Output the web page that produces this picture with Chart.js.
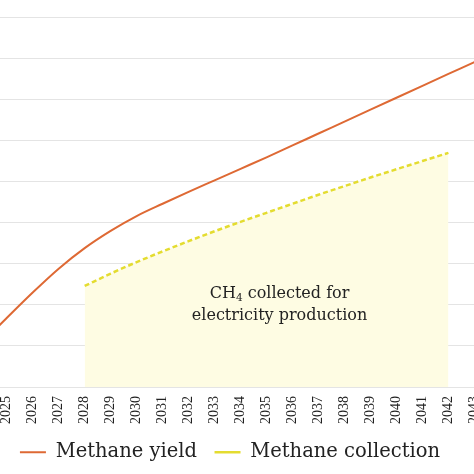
<!DOCTYPE html>
<html>
<head>
<meta charset="utf-8">
<script src="https://cdn.jsdelivr.net/npm/chart.js@4"></script>
<style>
    html, body { margin: 0; padding: 0; background: #fff; overflow: hidden; }
    #wrap { position: absolute; left: -30px; top: 0; width: 520px; height: 474px; }
</style>
</head>
<body>
<div id="wrap"><canvas id="methaneChart"></canvas></div>
<script>
// Years shown on the x axis (2024 sits just off the left edge)
const years = [2024, 2025, 2026, 2027, 2028, 2029, 2030, 2031, 2032, 2033,
    2034, 2035, 2036, 2037, 2038, 2039, 2040, 2041, 2042, 2043];
const yieldValues = [10.5, 16.8, 23.0, 28.8, 33.8, 38.0, 41.6, 44.6, 47.5, 50.3,
    53.1, 55.9, 58.8, 61.7, 64.6, 67.5, 70.4, 73.3, 76.2, 79.1];

const collectionYears = [2028, 2029, 2030, 2031, 2032, 2033, 2034, 2035,
    2036, 2037, 2038, 2039, 2040, 2041, 2042];
const collectionValues = [24.6, 27.6, 30.4, 33.0, 35.5, 37.9, 40.2, 42.4,
    44.6, 46.8, 48.9, 51.0, 53.0, 55.0, 57.0];

const seriesNames = ['Methane yield', 'Methane collection'];
const noteLines = ['collected for', 'electricity production'];

const toPoints = (xs, ys) => xs.map((x, i) => ({ x: x, y: ys[i] }));

// Text inside the shaded area
const notePlugin = {
    id: 'note',
    afterDatasetsDraw: function (chart) {
        const ctx = chart.ctx;
        const cx = chart.scales.x.getPixelForValue(2035.5);
        const y1 = chart.scales.y.getPixelForValue(21.7);
        const y2 = chart.scales.y.getPixelForValue(16.3);
        const big = '16px "DejaVu Serif"';
        const small = '10.5px "DejaVu Serif"';
        ctx.save();
        ctx.fillStyle = '#222';
        ctx.textBaseline = 'alphabetic';

        ctx.font = big;
        const wCH = ctx.measureText('CH').width;
        const wRest = ctx.measureText(' ' + noteLines[0]).width;
        ctx.font = small;
        const wSub = ctx.measureText('4').width;
        const x = cx - (wCH + wSub + wRest) / 2;
        ctx.textAlign = 'left';
        ctx.font = big;
        ctx.fillText('CH', x, y1);
        ctx.font = small;
        ctx.fillText('4', x + wCH, y1 + 3);
        ctx.font = big;
        ctx.fillText(' ' + noteLines[0], x + wCH + wSub, y1);

        ctx.textAlign = 'center';
        ctx.fillText(noteLines[1], cx, y2);
        ctx.restore();
    }
};

const ctx = document.getElementById('methaneChart').getContext('2d');
new Chart(ctx, {
    type: 'line',
    data: {
        datasets: [{
            label: seriesNames[0],
            data: toPoints(years, yieldValues),
            borderColor: '#DE6934',
            borderWidth: 2,
            pointRadius: 0,
            cubicInterpolationMode: 'monotone',
            fill: false,
            order: 1
        }, {
            label: seriesNames[1],
            data: toPoints(collectionYears, collectionValues),
            borderColor: '#E4DC30',
            backgroundColor: '#FEFCE3',
            borderWidth: 2.5,
            borderDash: [5, 3],
            pointRadius: 0,
            cubicInterpolationMode: 'monotone',
            fill: 'origin',
            order: 2
        }]
    },
    options: {
        responsive: true,
        maintainAspectRatio: false,
        animation: false,
        layout: { padding: { top: 0, left: 0, right: 0, bottom: 2 } },
        plugins: {
            tooltip: { enabled: false },
            legend: {
                position: 'bottom',
                labels: {
                    usePointStyle: true,
                    pointStyle: 'line',
                    pointStyleWidth: 26,
                    padding: 17.5,
                    color: '#222',
                    font: { family: '"DejaVu Serif"', size: 19.5 }
                }
            }
        },
        scales: {
            x: {
                type: 'linear',
                min: 2023.587,
                max: 2043.6,
                afterBuildTicks: function (scale) {
                    scale.ticks = years.map(v => ({ value: v }));
                },
                afterFit: function (scale) {
                    scale.height = 38;
                    scale.paddingLeft = 0;
                    scale.paddingRight = 0;
                },
                grid: { display: false, drawTicks: false },
                border: { display: false },
                ticks: {
                    minRotation: 90,
                    maxRotation: 90,
                    padding: 9,
                    color: '#222',
                    font: { family: '"Liberation Serif"', size: 14 },
                    callback: v => String(v)
                }
            },
            y: {
                min: 0,
                max: 94.2,
                afterBuildTicks: function (scale) {
                    scale.ticks = scale.ticks.filter(t => t.value % 10 === 0);
                },
                afterFit: function (scale) {
                    scale.width = 0;
                    scale.paddingTop = 0;
                    scale.paddingBottom = 0;
                },
                grid: { color: '#E4E4E4', lineWidth: 1, drawTicks: false },
                border: { display: false },
                ticks: { display: false, stepSize: 10 }
            }
        }
    },
    plugins: [notePlugin]
});
</script>
</body>
</html>
